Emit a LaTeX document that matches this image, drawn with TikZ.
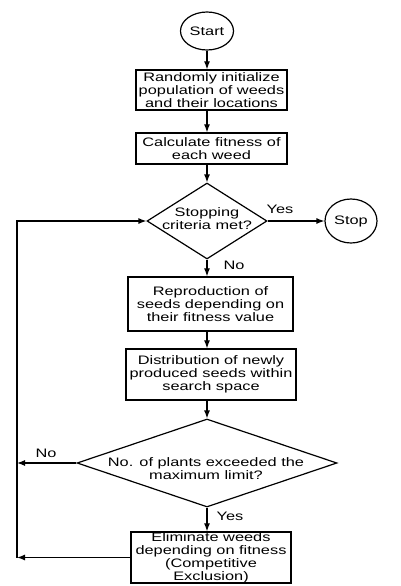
\documentclass[tikz,border=0pt]{standalone}
\usepackage{fontspec}
\setmainfont[FakeStretch=1.33]{Liberation Sans}
\usetikzlibrary{shapes.geometric,arrows.meta}
\begin{document}
\begin{tikzpicture}[x=1pt,y=-1pt,
  every node/.style={font=\fontsize{12.3}{12.9}\selectfont},
  proc/.style={draw, rectangle, line width=1.3pt, align=center, inner sep=0pt},
  term/.style={draw, ellipse, line width=1.2pt, inner sep=0pt},
  dec/.style={draw, diamond, line width=1.2pt, inner sep=0pt},
  lab/.style={inner sep=0pt, align=center},
  arr/.style={line width=1.2pt, -{Latex[length=8pt,width=6pt]}},
  conn/.style={line width=1.2pt}]
\useasboundingbox (0,0) rectangle (400,586);
\coordinate (col) at (207,0);
\node[term, minimum width=53pt, minimum height=38pt] (start) at (207,31) {Start};
\node[proc, minimum width=151pt, minimum height=40pt] (b1) at (211.5,90) {Randomly initialize\\population of weeds\\and their locations};
\node[proc, minimum width=151pt, minimum height=31pt] (b2) at (211.5,148.5) {Calculate fitness of\\each weed};
\node[dec, minimum width=120pt, minimum height=76pt] (d1) at (207,221) {};
\node[lab] (d1t) at (207,219) {Stopping\\criteria met?};
\node[term, minimum width=52pt, minimum height=44pt] (stop) at (351,221) {Stop};
\node[proc, minimum width=165pt, minimum height=54pt] (b3) at (210.5,304) {Reproduction of\\seeds depending on\\their fitness value};
\node[proc, minimum width=170pt, minimum height=51pt] (b4) at (211,374.5) {Distribution of newly\\produced seeds within\\search space};
\node[dec, minimum width=260pt, minimum height=88pt] (d2) at (207,463) {};
\node[lab] (d2t) at (206,469) {No. of plants exceeded the\\maximum limit?};
\node[proc, minimum width=160pt, minimum height=51pt] (b5) at (211,557.5) {Eliminate weeds\\depending on fitness\\(Competitive\\Exclusion)};
\coordinate (L1) at (17,221);
\coordinate (L2) at (17,463);
\coordinate (L3) at (17,557.5);
\node[lab] (yes1) at (280,209) {Yes};
\node[lab] (no1) at (234,265) {No};
\node[lab] (no2) at (46,453) {No};
\node[lab] (yes2) at (230,516) {Yes};
\draw[arr] (start.south) -- (start.south |- b1.north);
\draw[arr] (b1.south -| col) -- (b2.north -| col);
\draw[arr] (b2.south -| col) -- (d1.north);
\draw[arr] (d1.east) -- (stop.west);
\draw[arr] (d1.south) -- (b3.north -| col);
\draw[arr] (b3.south -| col) -- (b4.north -| col);
\draw[arr] (b4.south -| col) -- (d2.north);
\draw[arr] (d2.south) -- (b5.north -| col);
\draw[arr] (d2.west) -- (L2);
\draw[arr] (b5.west) -- (L3);
\draw[arr] (L3) -- (L1) -- (d1.west);
\end{tikzpicture}
\end{document}
